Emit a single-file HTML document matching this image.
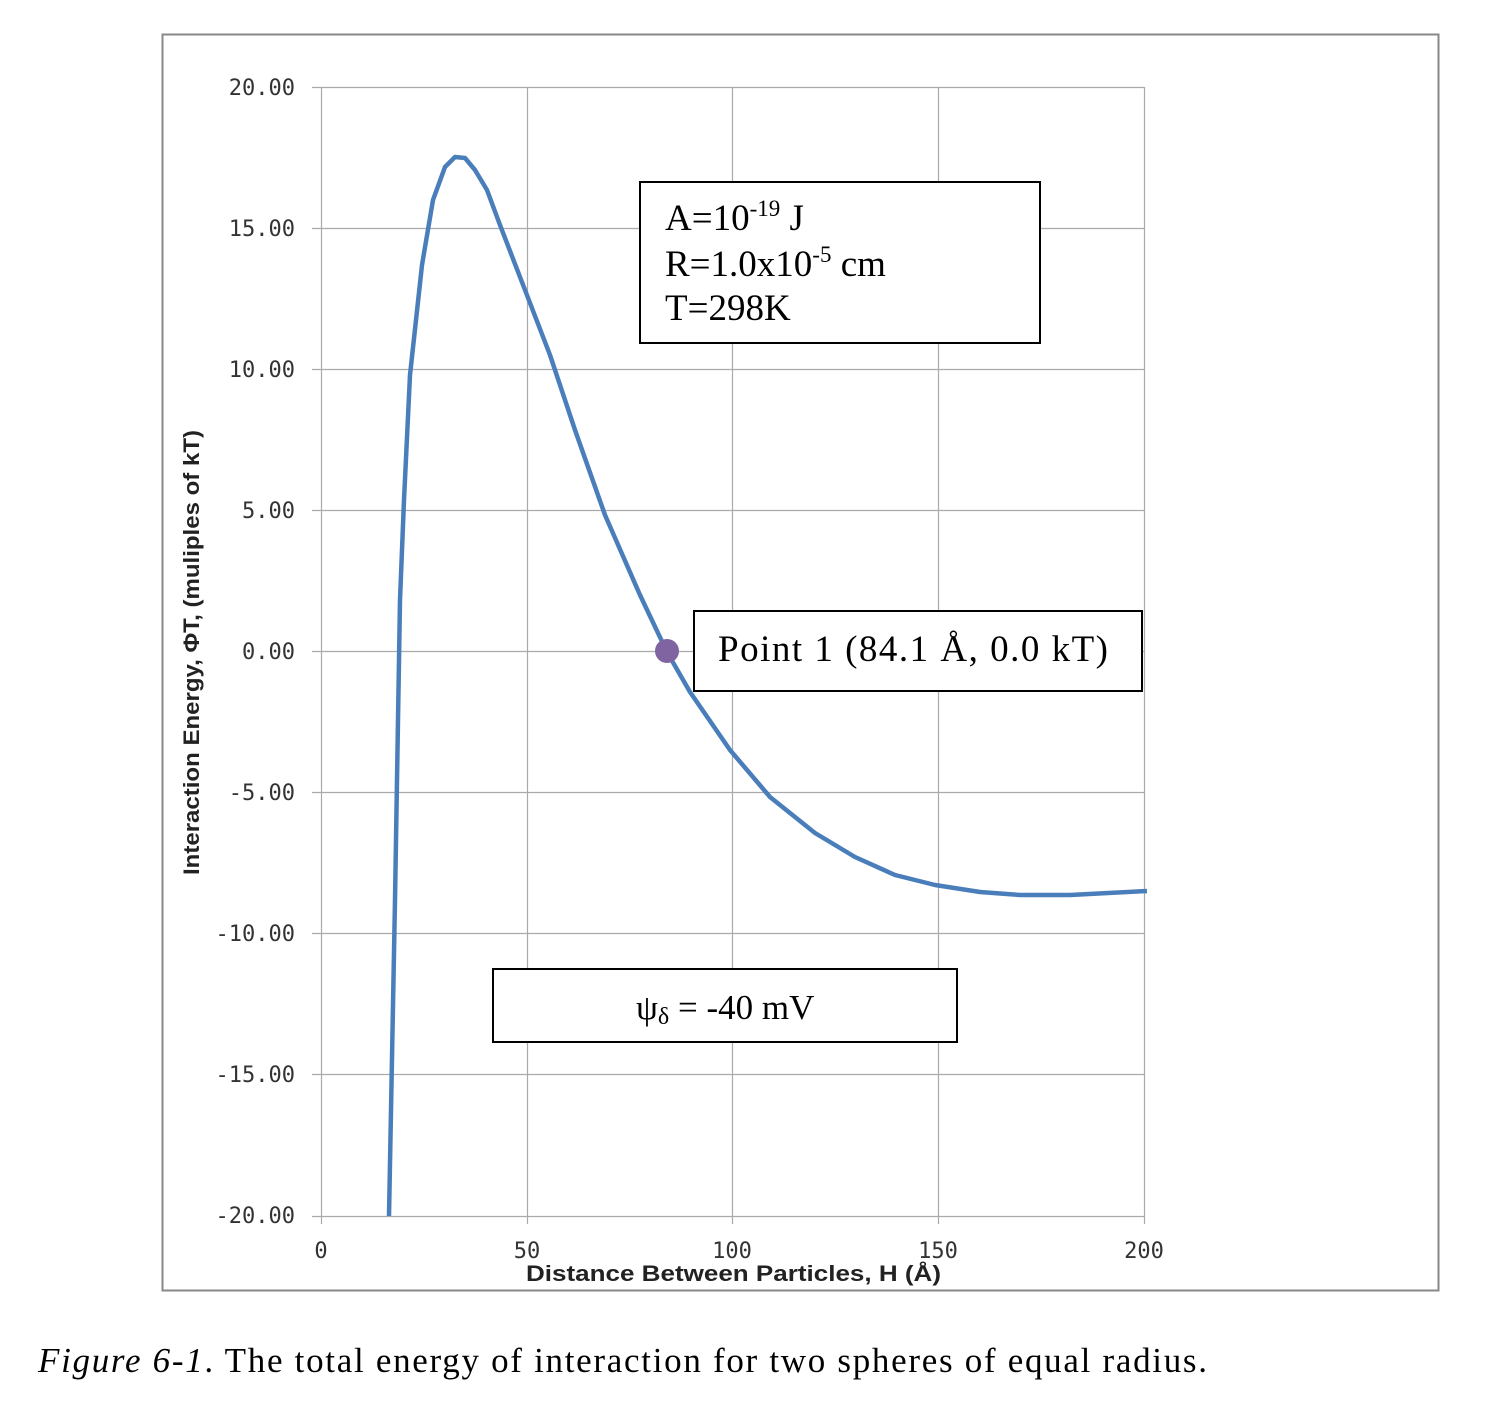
<!DOCTYPE html>
<html><head><meta charset="utf-8"><style>
body{margin:0;background:#fff;width:1487px;height:1422px;overflow:hidden}
</style></head><body>
<svg width="1487" height="1422" xmlns="http://www.w3.org/2000/svg">
<rect x="162.5" y="34.5" width="1276" height="1256" fill="#fff" stroke="#888" stroke-width="2"/>
<g stroke="#aaa" stroke-width="1.2">
<line x1="312" y1="87.5" x2="1144" y2="87.5"/>
<line x1="312" y1="228.5" x2="1144" y2="228.5"/>
<line x1="312" y1="369.5" x2="1144" y2="369.5"/>
<line x1="312" y1="510.5" x2="1144" y2="510.5"/>
<line x1="312" y1="651.5" x2="1144" y2="651.5"/>
<line x1="312" y1="792.5" x2="1144" y2="792.5"/>
<line x1="312" y1="933.5" x2="1144" y2="933.5"/>
<line x1="312" y1="1074.5" x2="1144" y2="1074.5"/>
<line x1="312" y1="1216.5" x2="1144" y2="1216.5"/>
<line x1="321.5" y1="87" x2="321.5" y2="1224"/>
<line x1="527.5" y1="87" x2="527.5" y2="1224"/>
<line x1="732.5" y1="87" x2="732.5" y2="1224"/>
<line x1="938.5" y1="87" x2="938.5" y2="1224"/>
<line x1="1144.5" y1="87" x2="1144.5" y2="1224"/>
</g>
<g font-family="DejaVu Sans Mono, Liberation Mono, monospace" font-size="22" fill="#333" text-anchor="end">
<text x="295" y="95">20.00</text><text x="295" y="236">15.00</text><text x="295" y="377">10.00</text>
<text x="295" y="518">5.00</text><text x="295" y="659">0.00</text><text x="295" y="800">-5.00</text>
<text x="295" y="941">-10.00</text><text x="295" y="1082">-15.00</text><text x="295" y="1223">-20.00</text>
</g>
<g font-family="DejaVu Sans Mono, Liberation Mono, monospace" font-size="22" fill="#333" text-anchor="middle">
<text x="321" y="1258">0</text><text x="527" y="1258">50</text><text x="732" y="1258">100</text><text x="938" y="1258">150</text><text x="1144" y="1258">200</text>
</g>
<text x="526" y="1281" textLength="415" lengthAdjust="spacingAndGlyphs" font-family="Liberation Sans, sans-serif" font-weight="bold" font-size="22" fill="#222">Distance Between Particles, H (Å)</text>
<text transform="translate(199,875) rotate(-90)" textLength="445" lengthAdjust="spacingAndGlyphs" font-family="Liberation Sans, sans-serif" font-weight="bold" font-size="22" fill="#222">Interaction Energy,  ΦT, (muliples of kT)</text>
<path fill="none" stroke="#4a7ebb" stroke-width="4.5" stroke-linejoin="round" d="M389,1216 L395,900 L400,600 L404,500 L410,375 L422,265 L433,200 L445,167 L455,157 L465,158 L475,170 L487,190 L500,225 L525,290 L550,355 L575,430 L605,515 L640,595 L667,652 L690,692 L730,750 L770,797 L815,833 L855,857 L895,875 L935,885 L980,892 L1020,895 L1070,895 L1147,891"/>
<circle cx="667" cy="651" r="12" fill="#8064a2"/>
<g font-family="Liberation Serif, serif" fill="#000">
<rect x="640" y="182" width="400" height="161" fill="#fff" stroke="#000" stroke-width="2"/>
<text x="665" y="230" font-size="37">A=10<tspan font-size="23" dy="-14">-19</tspan><tspan dy="14"> J</tspan></text>
<text x="665" y="276" font-size="37">R=1.0x10<tspan font-size="23" dy="-14">-5</tspan><tspan dy="14"> cm</tspan></text>
<text x="665" y="320" font-size="37">T=298K</text>
<rect x="694" y="611" width="448" height="80" fill="#fff" stroke="#000" stroke-width="2"/>
<text x="718" y="661" font-size="37" textLength="390" lengthAdjust="spacing">Point 1 (84.1  Å, 0.0 kT)</text>
<rect x="493" y="969" width="464" height="73" fill="#fff" stroke="#000" stroke-width="2"/>
<text x="636" y="1019" font-size="35">ψ<tspan font-size="24" dy="5">δ</tspan><tspan dy="-5">  = -40  mV</tspan></text>
<text x="38" y="1372" font-size="35" textLength="1169" lengthAdjust="spacing"><tspan font-style="italic">Figure 6-1</tspan>.  The total energy of interaction for two spheres of equal radius.</text>
</g>
</svg>
</body></html>
